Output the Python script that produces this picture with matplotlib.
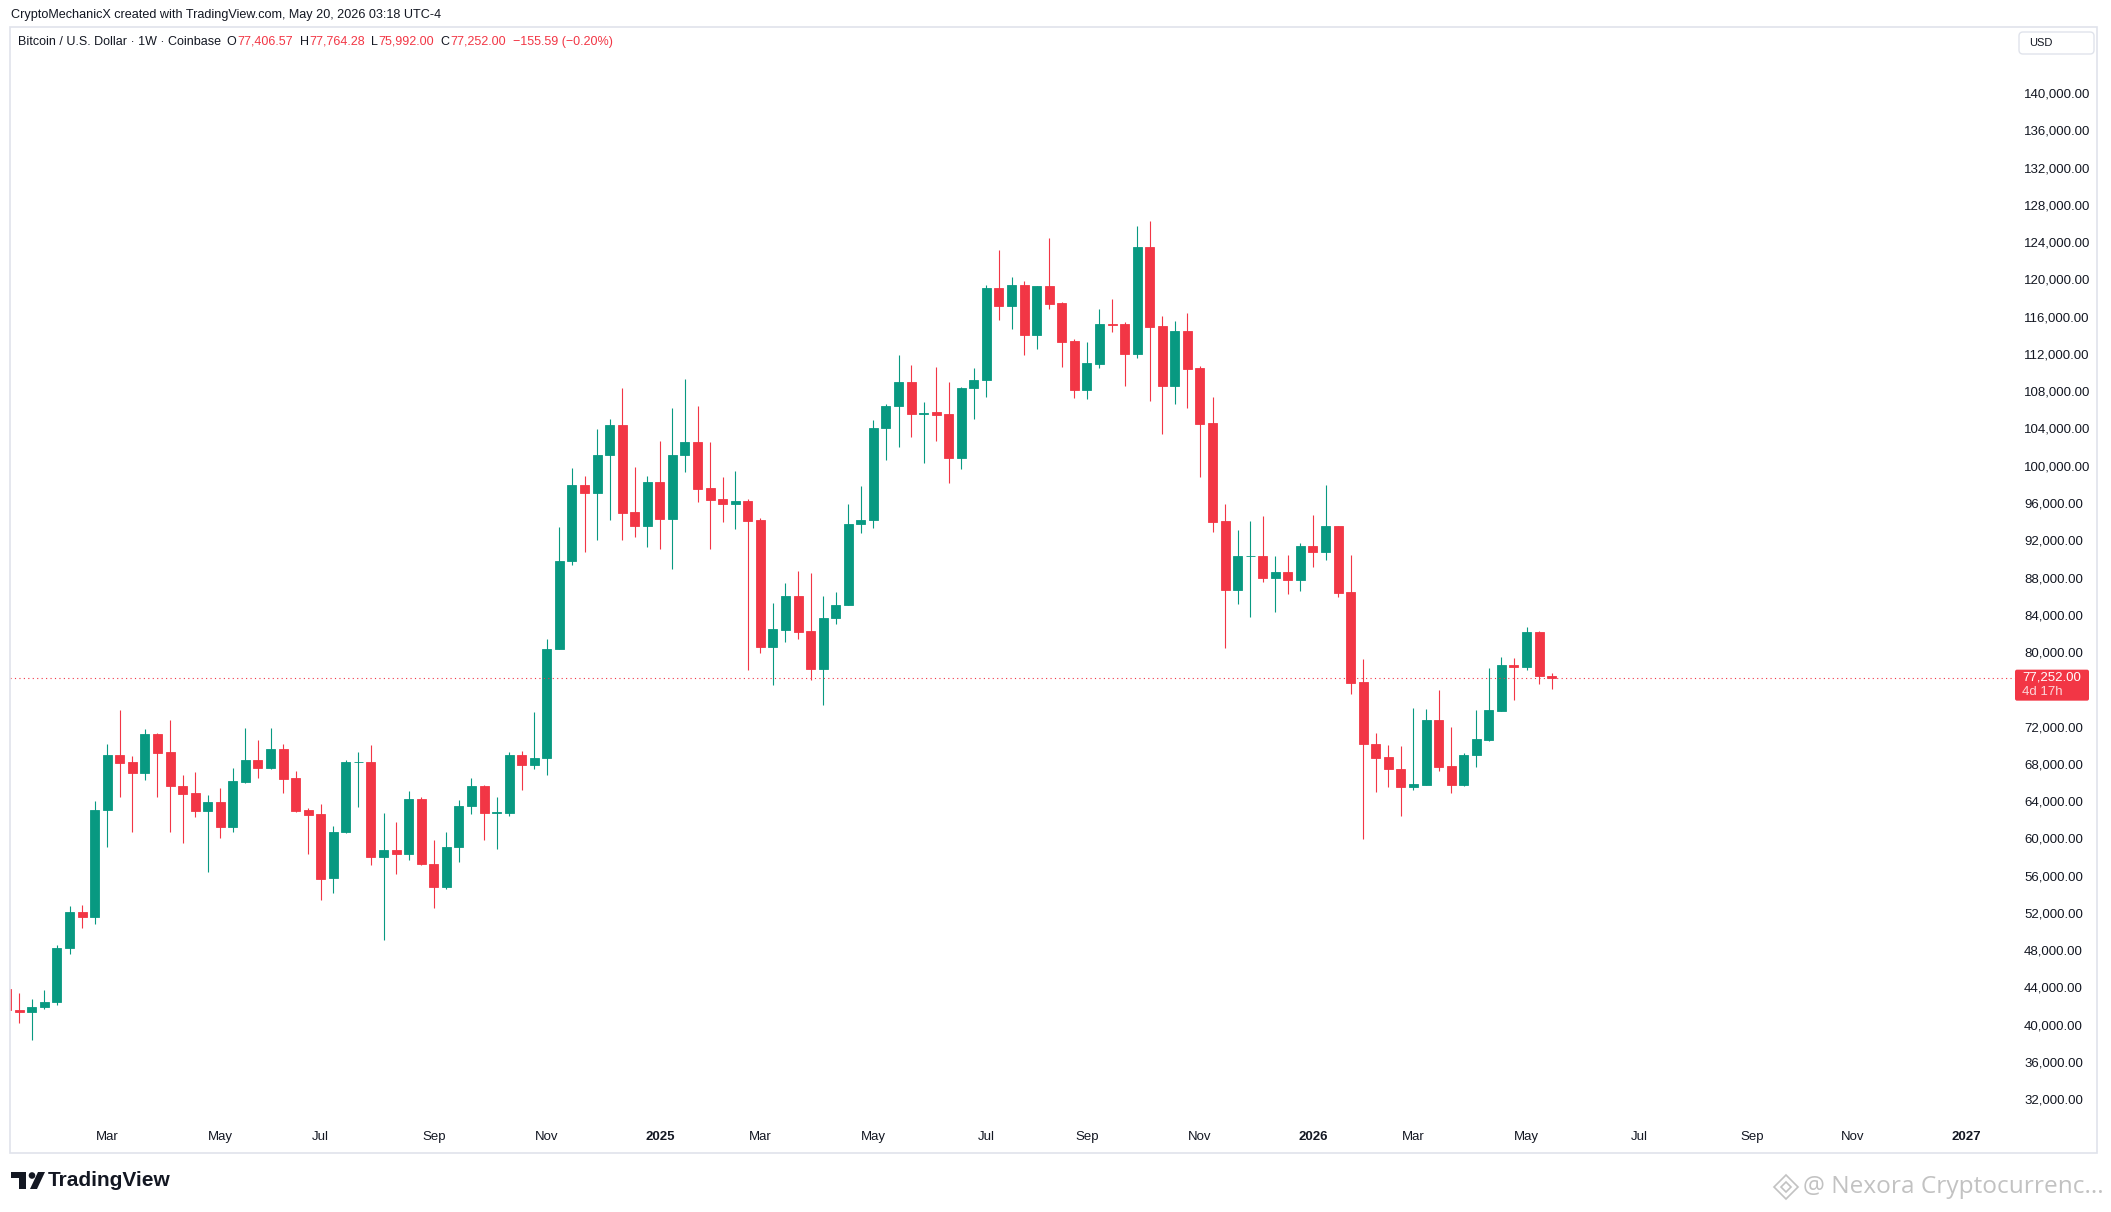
import pandas as pd
import matplotlib.pyplot as plt
import matplotlib.dates as mdates
from matplotlib.patches import Rectangle, FancyBboxPatch, Polygon, Circle, RegularPolygon
from matplotlib.transforms import IdentityTransform

plt.rcParams['font.family'] = ['Liberation Sans', 'DejaVu Sans']

# Coinbase BTC/USD weekly candles, first bar = week of 2024-01-08
first_week = '2024-01-08'
opens = [43830, 41580, 41400, 41900, 42440, 48200, 52100, 51560, 63000, 68950,
         68250, 67020, 71200, 69220, 65620, 64850, 62940, 63910, 61220, 66100,
         68420, 67560, 69600, 66450, 63000, 62580, 55700, 60680, 68160, 68240,
         58010, 58720, 58290, 64200, 57220, 54760, 59100, 63480, 65580, 62730,
         62760, 68990, 67840, 68650, 80330, 89770, 97950, 97110, 101120, 104370,
         95010, 93500, 98260, 94320, 101120, 102550, 97570, 96400, 95930, 96220,
         94160, 80580, 82420, 86020, 82220, 78220, 83620, 85020, 93700, 94140,
         104020, 106390, 108990, 105600, 105740, 105520, 100870, 108300, 109170, 119080,
         117170, 119400, 114040, 119300, 117420, 113340, 108130, 110970, 115220, 115200,
         112000, 123480, 114950, 108560, 114470, 110450, 104540, 94020, 86670, 90270,
         90310, 87950, 88600, 87740, 91390, 90740, 93530, 86400, 76740, 70180,
         68690, 67500, 65520, 65780, 72710, 67720, 65730, 68900, 70610, 73720,
         78610, 78430, 82150, 77406.57]
highs = [43830, 43370, 42760, 43730, 48560, 52740, 52850, 64020, 70130, 73780,
         68840, 71740, 71300, 72710, 66800, 67130, 64660, 65410, 67560, 71850,
         70560, 71850, 70130, 67230, 63260, 63690, 61330, 68360, 69310, 69990,
         62690, 61810, 65070, 64470, 59790, 60630, 64080, 66530, 65700, 64400,
         69310, 69430, 73600, 81450, 93460, 99770, 98900, 103930, 105050, 108380,
         99890, 98900, 102660, 106200, 109300, 106420, 102550, 98800, 99440, 96430,
         94390, 85310, 87420, 88710, 88490, 86020, 86450, 95900, 97830, 104910,
         106630, 111890, 110820, 106840, 110600, 108990, 108460, 110500, 119400, 123160,
         120260, 119830, 119300, 124450, 117580, 113600, 113280, 116830, 117900, 115430,
         125740, 126270, 116080, 115540, 116400, 110710, 107380, 95900, 93110, 94070,
         94610, 90310, 90420, 91710, 94710, 97930, 93530, 90420, 79260, 71310,
         70030, 69920, 74000, 73890, 75930, 71960, 69170, 73780, 78290, 79470,
         79360, 82690, 82260, 77764.28]
lows = [41470, 40150, 38390, 41690, 42120, 47590, 50380, 50810, 59080, 64440,
        60690, 66270, 64440, 60690, 59500, 62300, 56390, 60040, 60690, 65950,
        66480, 67450, 64870, 62800, 58330, 53390, 54140, 60600, 63360, 57140,
        49080, 56150, 57730, 57100, 52500, 54560, 57450, 62610, 59790, 58840,
        62410, 65190, 67450, 66770, 80300, 89380, 90690, 92080, 94220, 92080,
        92320, 91240, 91100, 88960, 99370, 96150, 91100, 94000, 93250, 78120,
        79940, 76470, 81120, 81440, 77040, 74360, 83050, 85000, 92820, 93360,
        100660, 102050, 103120, 100330, 102700, 98190, 99690, 105060, 107420, 115660,
        114680, 111890, 112540, 116830, 110600, 107270, 107170, 110500, 114360, 108560,
        111570, 106950, 103410, 106630, 106200, 98800, 92890, 80440, 85160, 83770,
        87530, 84300, 86240, 86560, 89130, 89880, 85910, 75500, 59940, 64980,
        65520, 62400, 65200, 65730, 67240, 64870, 65630, 67660, 70450, 73670,
        74860, 78070, 76570, 75992.00]
closes = [41580, 41400, 41900, 42440, 48240, 52100, 51560, 63050, 68950, 68090,
          67020, 71200, 69170, 65620, 64770, 62940, 63910, 61220, 66160, 68420,
          67560, 69600, 66380, 62940, 62510, 55640, 60700, 68160, 68240, 58010,
          58720, 58290, 64200, 57220, 54760, 59120, 63520, 65580, 62730, 62800,
          68990, 67840, 68650, 80380, 89800, 97950, 97110, 101120, 104370, 94970,
          93500, 98260, 94320, 101160, 102550, 97540, 96360, 95930, 96220, 94110,
          80580, 82480, 86020, 82190, 78220, 83660, 85060, 93750, 94180, 104060,
          106420, 108990, 105600, 105700, 105490, 100870, 108350, 109210, 119080, 117170,
          119400, 114040, 119300, 117360, 113280, 108130, 111030, 115220, 115150, 112000,
          123480, 114900, 108560, 114470, 110390, 104480, 93970, 86670, 90310, 90310,
          87950, 88600, 87740, 91390, 90740, 93530, 86340, 76680, 70130, 68630,
          67450, 65520, 65840, 72710, 67670, 65730, 68950, 70670, 73780, 78610,
          78430, 82150, 77407.59, 77252.00]

month_ticks = ['2024-03-04', '2024-05-06', '2024-07-01', '2024-09-02', '2024-11-04',
               '2025-01-06', '2025-03-03', '2025-05-05', '2025-07-07', '2025-09-01',
               '2025-11-03', '2026-01-05', '2026-03-02', '2026-05-04', '2026-07-06',
               '2026-09-07', '2026-11-02', '2027-01-04']
month_labels = ['Mar', 'May', 'Jul', 'Sep', 'Nov', '2025', 'Mar', 'May', 'Jul', 'Sep',
                'Nov', '2026', 'Mar', 'May', 'Jul', 'Sep', 'Nov', '2027']
price_ticks = list(range(32000, 140001, 4000))

header = 'CryptoMechanicX created with TradingView.com, May 20, 2026 03:18 UTC-4'
symbol = 'Bitcoin / U.S. Dollar · 1W · Coinbase'
change_text = '\u2212155.59 (\u22120.20%)'
countdown = '4d 17h'

UP = '#089981'
DOWN = '#f23645'
TXT = '#131722'

W, H = 2111, 1212
fig = plt.figure(figsize=(W / 100, H / 100), dpi=100)
fig.patch.set_facecolor('white')

# plot pane in pixels (from top-left)
pl, pr, pt, pb = 10, 2015, 27, 1125
ax = fig.add_axes([pl / W, 1 - pb / H, (pr - pl) / W, (pb - pt) / H])

df = pd.DataFrame({'open': opens, 'high': highs, 'low': lows, 'close': closes})
df.index = pd.date_range(first_week, periods=len(df), freq='7D')
x = mdates.date2num(df.index)
up = df['close'] >= df['open']
colors = [UP if u else DOWN for u in up]

ax.vlines(x, df['low'], df['high'], colors=colors, linewidth=0.8)
bottoms = df[['open', 'close']].min(axis=1)
heights = (df['close'] - df['open']).abs()
ax.bar(x, heights, bottom=bottoms, width=5.0, color=colors,
       edgecolor=colors, linewidth=0.6)

# last price dotted line
last = closes[-1]
ax.axhline(last, color=DOWN, linewidth=0.8, linestyle=(0, (1, 3)))

px_day = 12.56 / 7
ax.set_xlim(x[0] + (pl - 6.74) / px_day, x[0] + (pr - 6.74) / px_day)
ax.set_ylim(29229, 147102)

for s in ax.spines.values():
    s.set_visible(False)

# price scale
ax.yaxis.tick_right()
ax.set_yticks([p for p in price_ticks if abs(p - last) > 2500])
ax.set_yticklabels([f'{p:,.2f}' for p in price_ticks if abs(p - last) > 2500])
ax.tick_params(axis='y', length=0, pad=6.5, labelsize=9.5, labelcolor=TXT)

# time scale
ax.set_xticks(mdates.date2num(pd.to_datetime(month_ticks)))
ax.set_xticklabels(month_labels)
ax.tick_params(axis='x', length=0, pad=4, labelsize=9.5, labelcolor=TXT)
for lab in ax.get_xticklabels():
    if lab.get_text().isdigit():
        lab.set_fontweight('bold')


def fy(y):
    return H - y


# pane border
fig.add_artist(Rectangle((9.5, fy(1153)), 2097 - 9.5, 1153 - 27, transform=IdentityTransform(),
                         fill=False, edgecolor='#e0e3eb', linewidth=1.2))

# header & legend
fig.text(11 / W, 1 - 15 / H, header, fontsize=9.1, va='center', color=TXT)
prev = fig.text(17.5 / W, 1 - 42 / H, symbol, fontsize=9, va='center', color=TXT)
pieces = [('  O', TXT), ('77,406.57', DOWN), ('  H', TXT), ('77,764.28', DOWN),
          ('  L', TXT), ('75,992.00', DOWN), ('  C', TXT), ('77,252.00', DOWN),
          ('  ' + change_text, DOWN)]
for txt, col in pieces:
    prev = ax.annotate(txt, xy=(1, 0), xycoords=prev, va='bottom', ha='left',
                       fontsize=9, color=col, annotation_clip=False)

# currency box
fig.add_artist(FancyBboxPatch((2019, fy(54)), 75, 22, boxstyle='round,pad=0,rounding_size=4',
                              transform=IdentityTransform(), facecolor='white',
                              edgecolor='#e0e3eb', linewidth=1.0))
fig.text(2029 / W, 1 - 43 / H, 'USD', fontsize=8, va='center', color=TXT)

# last price label
yl = ax.transData.transform((x[-1], last))[1]
fig.add_artist(FancyBboxPatch((2015, yl - 23), 74, 31, boxstyle='round,pad=0,rounding_size=2',
                              transform=IdentityTransform(), facecolor=DOWN, edgecolor='none'))
fig.text(2022 / W, yl / H, f'{last:,.2f}', fontsize=9.5, va='center', color='white')
fig.text(2022 / W, (yl - 14) / H, countdown, fontsize=9.5, va='center', color='#fcd4d8')

# TradingView logo
fig.add_artist(Polygon([(11, fy(1172)), (26, fy(1172)), (26, fy(1189)), (19, fy(1189)),
                        (19, fy(1178)), (11, fy(1178))], closed=True,
                       transform=IdentityTransform(), facecolor=TXT, edgecolor='none'))
fig.add_artist(Circle((32, fy(1175.5)), 3.3, transform=IdentityTransform(),
                      facecolor=TXT, edgecolor='none'))
fig.add_artist(Polygon([(30, fy(1189)), (37, fy(1189)), (45, fy(1172)), (38, fy(1172))],
                       closed=True, transform=IdentityTransform(), facecolor=TXT, edgecolor='none'))
fig.text(48 / W, 1 - 1181 / H, 'TradingView', fontsize=15, fontweight='bold',
         va='center', color=TXT)

# watermark
wm = '#c2c2c2'
fig.add_artist(RegularPolygon((1786, fy(1187)), 4, radius=12, transform=IdentityTransform(),
                              fill=False, edgecolor=wm, linewidth=1.2))
fig.add_artist(RegularPolygon((1786, fy(1187)), 4, radius=5, transform=IdentityTransform(),
                              fill=False, edgecolor=wm, linewidth=1.2))
fig.text(2104 / W, 1 - 1187 / H, '@ Nexora Cryptocurrenc...', fontsize=17.6,
         family=['Open Sans', 'DejaVu Sans'], ha='right', va='center', color=wm)

fig.savefig('out.png', dpi=100, facecolor='white')
